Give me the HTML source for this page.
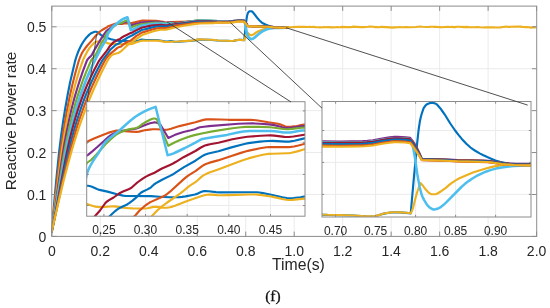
<!DOCTYPE html><html><head><meta charset="utf-8"><style>html,body{margin:0;padding:0;background:#fff;}svg{display:block;}text{font-family:"Liberation Sans",Arial,sans-serif;fill:#262626;}</style></head><body>
<svg width="550" height="308" viewBox="0 0 550 308">
<defs>
<clipPath id="cm"><rect x="51.8" y="6.1" width="484.90000000000003" height="230.3"/></clipPath>
<clipPath id="c1"><rect x="86.7" y="101.7" width="218.3" height="114.49999999999999"/></clipPath>
<clipPath id="c2"><rect x="322.0" y="101.5" width="209.0" height="115.5"/></clipPath>
</defs>
<rect width="550" height="308" fill="#fff"/>
<path d="M100.28,6.1V236.4M148.76,6.1V236.4M197.24,6.1V236.4M245.72,6.1V236.4M294.20,6.1V236.4M342.68,6.1V236.4M391.16,6.1V236.4M439.64,6.1V236.4M488.12,6.1V236.4M51.8,194.48H536.7M51.8,152.56H536.7M51.8,110.64H536.7M51.8,68.72H536.7M51.8,26.80H536.7" stroke="#ebebeb" stroke-width="1" fill="none"/>
<g clip-path="url(#cm)" fill="none" stroke-width="2.15" stroke-linejoin="round" stroke-linecap="round">
<path d="M51.6,232.0L56.0,182.9L57.8,164.5L59.2,151.2L61.1,136.0L63.2,120.8L65.3,108.0L67.6,95.0L70.1,82.3L73.1,69.5L75.2,60.6L76.3,57.0L77.4,53.8L78.5,51.0L80.0,47.8L81.4,45.0L83.2,42.0L84.7,39.8L86.1,37.9L88.0,35.9L89.4,34.6L91.2,33.2L93.4,32.2L94.9,31.8L95.6,31.7L96.3,31.8L98.1,32.4L98.9,32.9L100.8,34.9L103.7,36.5L105.4,37.8L106.1,38.2L106.7,38.3L107.5,38.2L108.2,38.3L111.1,39.3L113.4,39.8L116.2,40.5L119.0,41.0L126.1,41.0L131.5,41.3L134.1,41.3L136.1,41.1L138.9,40.6L141.1,39.8L141.8,39.6L146.0,40.0L156.9,40.0L158.7,40.2L165.7,41.5L167.5,41.5L171.0,41.1L171.9,41.2L174.1,41.6L175.0,41.7L178.8,41.6L192.6,40.6L194.5,40.4L198.1,39.6L199.5,39.5L209.0,39.7L214.5,40.1L217.6,40.5L226.9,40.7L231.7,41.0L233.7,40.9L236.2,40.2L238.8,39.9L241.0,39.9L244.2,40.2L246.2,21.6L247.0,16.1L247.5,14.2L248.2,12.4L248.7,11.9L249.1,11.6L250.0,11.2L250.6,11.2L251.9,11.4L253.0,12.4L254.3,14.0L257.8,18.6L259.3,20.2L260.9,21.7L261.9,22.6L262.9,23.3L266.0,24.8L268.0,25.6L270.5,26.5L273.5,27.1L276.3,27.3L280.7,27.4L282.1,27.8L284.0,27.7L286.4,27.3L287.9,27.3" stroke="#0072BD"/>
<path d="M51.6,232.0L57.8,174.1L59.9,156.0L61.8,142.2L64.0,127.7L66.7,112.0L69.4,98.0L72.3,85.1L75.2,73.5L78.5,61.7L80.0,57.5L81.8,53.4L82.9,51.5L84.0,49.9L86.9,46.0L91.7,40.6L96.0,35.4L99.2,32.2L100.7,31.0L102.1,30.0L105.1,28.3L106.9,27.4L107.3,27.0L107.5,26.6L107.6,26.5L112.3,24.7L115.2,23.8L116.5,23.6L121.9,24.0L124.2,23.5L126.5,23.3L130.7,23.4L141.2,20.8L142.5,20.6L156.1,20.8L163.1,21.8L165.1,22.5L165.8,22.6L168.6,22.4L171.2,22.0L198.5,21.3L205.7,21.3L211.2,21.5L217.0,21.9L217.4,22.2L218.1,22.2L223.1,22.3L228.6,22.2L232.7,22.0L238.6,21.1L242.0,21.1L244.1,21.3L244.9,22.2L245.9,23.5L247.6,26.1L267.4,26.7L272.7,27.3L275.6,27.4L280.7,27.6L282.1,27.8L284.0,27.7L286.4,27.3L287.9,27.3" stroke="#D95319"/>
<path d="M51.6,232.0L54.1,212.6L59.6,168.0L62.1,148.9L64.0,137.1L65.8,126.4L68.0,114.9L70.1,104.7L73.1,92.6L76.0,81.9L79.2,71.1L82.9,60.4L84.0,57.9L85.1,55.7L86.9,52.2L88.3,49.8L89.8,47.7L90.9,46.3L93.1,44.0L94.1,42.9L95.2,42.2L96.3,41.7L97.4,41.5L98.5,41.5L102.5,41.9L105.0,42.2L106.3,42.5L107.3,43.1L108.4,43.4L110.5,43.9L111.7,43.9L115.3,43.7L119.8,44.2L124.4,44.3L127.1,43.8L130.0,44.1L131.6,43.9L133.1,43.6L136.4,42.3L140.6,41.0L141.9,40.7L143.1,40.6L146.2,40.8L157.1,40.6L161.1,41.1L164.9,41.9L166.6,42.0L170.6,41.7L177.7,41.5L191.5,40.6L194.1,40.3L197.7,39.6L199.5,39.4L204.3,39.5L210.1,39.7L215.2,40.0L217.0,40.3L217.4,40.5L227.0,40.7L231.5,41.0L233.7,40.8L236.2,40.2L238.8,39.9L241.0,39.9L244.2,40.2L244.9,38.8L246.2,34.6L247.2,32.2L248.8,33.9L249.7,34.7L250.4,35.1L251.7,35.1L253.5,34.4L254.8,33.5L256.6,32.2L259.0,31.0L263.5,29.3L268.2,28.1L270.2,27.8L272.2,27.6L280.7,27.5L282.2,27.8L284.0,27.7L286.4,27.3L287.9,27.3" stroke="#EDB120"/>
<path d="M51.6,232.0L54.5,212.5L60.7,167.7L62.5,155.6L64.3,144.5L66.6,132.0L69.1,119.9L71.6,108.8L74.5,97.6L77.1,88.8L80.0,79.6L82.9,71.2L86.9,60.6L88.0,58.9L88.7,58.1L90.9,56.0L92.0,54.6L95.2,48.6L99.6,41.2L104.0,34.4L105.8,31.8L106.9,30.6L108.5,29.5L113.7,25.3L114.8,24.7L116.1,24.2L117.7,23.7L121.9,23.1L125.7,21.7L127.3,21.4L127.8,21.5L128.7,21.9L131.1,25.6L134.4,24.3L138.6,23.3L140.3,22.7L143.1,22.4L152.3,21.8L156.2,21.7L160.9,22.0L162.0,22.2L164.5,22.8L165.5,22.9L166.8,22.8L169.6,22.5L170.9,22.4L171.9,22.5L174.5,23.0L175.5,23.0L178.8,22.8L193.7,21.0L198.1,20.6L202.8,20.7L213.0,21.3L217.0,21.4L217.4,21.2L223.1,21.3L230.2,21.2L233.0,20.9L238.4,20.2L241.1,20.1L244.1,20.4L244.9,21.3L245.9,22.7L247.6,25.8L267.6,26.4L273.8,27.0L280.7,27.2L282.1,27.8L284.0,27.7L286.4,27.3L287.9,27.3" stroke="#7E2F8E"/>
<path d="M51.6,232.0L54.9,212.0L62.1,165.1L64.0,154.3L65.8,144.3L68.3,132.0L70.9,120.4L73.8,109.0L76.7,98.9L79.6,89.8L83.0,80.0L86.5,71.1L90.9,60.8L92.0,59.1L94.9,55.9L96.0,54.2L100.7,44.5L101.8,42.5L104.4,38.5L106.5,33.8L107.2,32.6L107.6,32.1L108.6,31.4L109.4,30.8L112.9,27.3L114.3,26.0L115.8,24.8L117.1,24.1L119.1,23.4L122.0,22.8L124.1,21.6L125.7,20.8L126.4,20.5L127.1,20.4L127.9,20.7L131.1,27.6L134.5,26.1L136.9,25.3L138.9,24.8L144.4,23.8L150.2,23.0L153.0,22.7L155.8,22.6L160.9,22.7L165.7,23.2L171.0,22.8L171.9,23.0L174.1,23.6L175.5,23.7L178.8,23.4L194.1,20.9L198.5,20.4L205.4,20.4L211.5,20.6L217.0,21.0L217.4,21.6L222.8,21.6L230.9,21.4L233.0,21.3L238.1,20.5L239.8,20.4L242.4,20.5L244.1,20.7L244.9,21.6L245.9,23.0L247.6,25.9L267.6,26.5L273.8,27.1L280.7,27.4L282.1,27.8L284.0,27.7L286.4,27.3L287.9,27.3" stroke="#77AC30"/>
<path d="M51.6,232.0L55.3,212.0L62.7,168.0L66.1,149.6L68.3,139.1L70.9,128.0L73.4,118.2L76.3,107.9L79.6,97.6L83.0,88.0L86.9,78.1L90.9,68.9L93.4,63.5L100.7,48.6L106.1,39.6L106.9,37.8L107.5,35.0L108.2,33.3L112.3,27.4L113.4,26.1L116.6,23.8L120.0,21.1L121.6,19.9L124.2,18.5L127.4,17.3L130.9,30.1L131.9,29.9L133.2,29.4L141.1,25.8L148.2,24.7L152.1,24.0L153.9,23.8L161.1,23.7L165.9,24.1L169.9,23.6L171.0,23.6L171.9,23.7L174.5,24.3L176.3,24.3L178.8,23.9L183.9,23.0L193.7,21.3L196.3,21.0L198.8,20.8L207.2,20.8L214.1,21.0L217.0,21.1L217.4,21.6L223.1,21.7L231.1,21.5L233.0,21.3L238.9,20.5L243.3,20.6L244.2,20.8L244.6,21.6L245.4,24.9L246.6,31.9L247.2,34.2L247.6,35.4L248.2,36.6L249.4,38.2L250.3,38.8L251.3,39.2L252.7,38.8L254.2,37.9L259.6,33.3L261.8,31.7L264.2,30.4L267.3,29.1L270.5,28.3L274.4,27.8L280.7,27.6L282.2,27.8L284.0,27.7L286.4,27.3L287.9,27.3" stroke="#4DBEEE" stroke-width="2.7"/>
<path d="M51.6,232.0L53.4,223.5L55.6,212.6L63.6,168.9L65.8,157.6L67.6,148.9L70.1,137.7L72.6,128.0L75.2,118.5L78.1,109.1L80.0,103.7L82.1,97.6L86.1,87.5L88.3,82.4L90.9,76.8L93.4,71.6L96.0,66.6L98.9,61.1L100.0,59.4L106.5,51.2L107.8,49.4L109.5,46.6L111.3,44.8L113.2,42.5L113.7,42.1L115.2,41.4L117.2,40.1L120.1,38.9L122.3,37.2L124.5,35.9L127.1,34.8L129.4,33.6L132.4,32.4L135.7,30.6L139.0,29.0L141.1,27.9L142.1,27.5L145.9,26.8L149.9,25.9L153.9,25.3L157.8,25.0L160.8,24.9L165.1,25.3L166.8,25.3L170.7,24.7L178.1,23.9L186.5,22.8L193.4,21.7L196.6,21.4L199.2,21.2L202.8,21.2L210.1,21.3L219.7,21.7L228.3,21.6L232.7,21.4L238.8,20.5L242.4,20.6L244.1,20.8L244.3,21.0L245.9,23.0L247.6,25.9L267.6,26.5L273.8,27.1L280.7,27.4L282.1,27.8L284.0,27.7L286.4,27.3L287.9,27.3" stroke="#A2142F"/>
<path d="M51.6,232.0L55.6,213.4L64.0,172.0L66.1,161.8L68.3,152.2L70.9,141.8L73.8,131.0L76.7,121.1L80.0,111.0L82.1,104.8L84.3,98.9L86.5,93.4L89.1,87.3L91.6,81.6L94.1,76.2L96.7,71.1L99.6,65.5L101.8,61.4L102.9,59.6L106.5,55.0L109.5,50.8L110.8,49.3L115.0,45.5L116.5,44.4L118.8,43.4L120.0,42.7L121.6,41.6L123.2,40.1L125.7,38.9L127.5,37.6L132.4,35.2L135.7,33.3L139.0,31.6L141.1,30.3L142.4,29.8L145.7,29.1L152.4,27.4L154.6,26.9L157.8,26.5L160.0,26.4L165.4,26.5L166.8,26.5L170.7,25.7L174.8,25.0L195.5,22.1L199.9,21.8L212.3,21.8L222.2,22.0L229.3,21.9L232.8,21.6L238.6,20.8L242.3,20.9L244.1,21.1L244.9,21.9L245.9,23.3L247.6,26.0L267.4,26.5L273.8,27.2L280.7,27.4L282.1,27.8L284.0,27.7L286.4,27.3L287.9,27.3" stroke="#0072BD"/>
<path d="M51.6,232.0L62.5,182.6L67.6,160.9L70.5,149.5L73.4,139.0L76.3,129.1L79.2,120.0L82.9,109.5L86.9,98.9L91.2,88.4L95.6,78.7L99.6,70.5L104.7,60.7L106.1,58.5L107.6,56.5L109.0,55.0L110.5,53.6L114.5,50.4L117.4,47.9L118.4,47.3L120.3,46.8L121.0,46.5L121.6,46.1L122.8,44.8L125.2,43.0L126.2,42.4L129.6,41.1L130.6,40.6L131.6,39.8L136.4,35.9L139.0,34.4L140.9,33.1L141.8,32.6L152.4,29.5L154.6,28.9L157.8,28.3L159.7,28.0L166.1,28.0L167.7,27.8L171.2,27.0L174.8,25.6L177.4,25.2L185.7,24.2L194.1,23.1L198.1,22.7L217.4,22.4L222.9,22.4L229.6,22.3L232.8,22.1L238.2,21.3L240.2,21.2L242.4,21.3L244.1,21.5L245.9,23.7L247.6,26.2L267.4,26.7L273.1,27.4L275.7,27.5L280.7,27.6L282.1,27.8L284.0,27.7L286.4,27.3L287.9,27.3" stroke="#D95319"/>
<path d="M51.6,232.0L58.9,200.5L63.8,180.0L68.7,161.5L71.2,152.4L73.7,144.0L76.3,135.6L79.2,126.7L81.8,119.4L84.7,111.4L87.6,103.8L90.8,96.0L93.8,89.0L97.1,81.7L101.7,72.0L107.2,61.2L109.2,58.0L110.8,56.0L111.8,55.1L113.0,54.5L114.5,54.0L118.0,53.0L119.1,52.5L120.0,52.0L121.2,51.1L123.2,49.3L127.4,45.3L128.9,44.0L130.6,42.8L134.5,40.3L137.4,38.2L139.0,37.3L141.1,35.7L142.2,35.1L153.4,31.3L157.9,30.2L160.4,29.8L165.7,29.6L167.0,29.5L174.8,27.5L178.5,26.8L183.5,25.8L194.1,24.1L200.0,23.5L213.4,23.1L217.0,22.8L217.4,22.6L223.2,22.7L230.4,22.6L232.8,22.4L237.6,21.6L239.4,21.5L242.3,21.6L244.1,21.8L245.9,23.9L247.6,26.2L267.4,26.7L273.0,27.3L275.7,27.5L280.7,27.6L282.1,27.8L284.0,27.7L286.4,27.3L287.9,27.3L289.4,27.2L292.5,27.1L298.1,26.7L301.0,26.9L304.0,26.7L307.7,27.0L309.7,26.9L311.3,27.0L314.1,26.9L315.5,27.2L318.4,27.2L319.9,27.4L322.8,27.3L324.3,27.1L325.7,27.2L328.6,27.1L331.5,27.4L335.9,27.3L337.3,27.1L338.8,27.2L340.3,27.2L341.7,26.9L347.0,27.1L349.0,27.0L350.7,27.1L351.9,27.0L353.3,26.6L356.1,26.9L357.7,26.9L360.4,27.1L363.5,27.1L367.9,26.8L369.3,26.6L373.7,26.7L375.2,27.1L376.6,27.0L379.5,27.2L381.0,26.9L381.6,26.9L385.2,27.1L387.0,27.1L392.6,27.6L394.1,27.4L395.5,27.4L397.0,27.2L398.6,27.3L399.9,27.0L401.3,27.2L402.8,27.3L407.0,27.0L408.6,27.2L410.1,27.2L415.9,27.0L417.3,26.7L418.8,26.7L420.2,26.5L422.2,26.8L427.0,27.0L429.0,26.9L431.3,26.7L432.5,26.7L434.8,26.9L436.2,26.8L437.7,27.0L439.8,27.1L442.1,27.3L445.0,27.0L447.6,26.9L450.7,27.0L452.2,26.9L453.7,27.1L455.2,27.1L456.6,26.8L458.1,26.7L459.5,26.8L461.0,27.0L462.4,26.9L463.9,27.1L467.0,26.9L469.5,27.2L470.7,27.2L474.3,27.2L477.3,27.1L479.9,27.3L484.2,27.5L485.7,27.3L488.6,27.3L490.1,27.4L493.0,27.3L494.4,27.4L498.8,27.5L500.4,27.4L502.8,27.0L506.1,26.6L507.5,26.8L510.4,26.8L517.7,26.5L520.6,26.6L522.1,26.9L523.5,27.0L525.0,27.1L527.0,27.1L529.3,27.3L530.7,27.6L532.2,27.5L533.7,27.3L535.1,27.4" stroke="#EDB120"/>
</g>
<path d="M51.80,236.4v-4.8M51.80,6.1v4.8M100.28,236.4v-4.8M100.28,6.1v4.8M148.76,236.4v-4.8M148.76,6.1v4.8M197.24,236.4v-4.8M197.24,6.1v4.8M245.72,236.4v-4.8M245.72,6.1v4.8M294.20,236.4v-4.8M294.20,6.1v4.8M342.68,236.4v-4.8M342.68,6.1v4.8M391.16,236.4v-4.8M391.16,6.1v4.8M439.64,236.4v-4.8M439.64,6.1v4.8M488.12,236.4v-4.8M488.12,6.1v4.8M536.60,236.4v-4.8M536.60,6.1v4.8M51.8,236.40h4.8M536.7,236.40h-4.8M51.8,194.48h4.8M536.7,194.48h-4.8M51.8,152.56h4.8M536.7,152.56h-4.8M51.8,110.64h4.8M536.7,110.64h-4.8M51.8,68.72h4.8M536.7,68.72h-4.8M51.8,26.80h4.8M536.7,26.80h-4.8" stroke="#8c8c8c" stroke-width="1" fill="none"/>
<rect x="51.8" y="6.1" width="484.90000000000003" height="230.3" fill="none" stroke="#8c8c8c" stroke-width="1"/>
<text x="51.80" y="255.9" font-size="14" text-anchor="middle">0</text>
<text x="100.28" y="255.9" font-size="14" text-anchor="middle">0.2</text>
<text x="148.76" y="255.9" font-size="14" text-anchor="middle">0.4</text>
<text x="197.24" y="255.9" font-size="14" text-anchor="middle">0.6</text>
<text x="245.72" y="255.9" font-size="14" text-anchor="middle">0.8</text>
<text x="294.20" y="255.9" font-size="14" text-anchor="middle">1.0</text>
<text x="342.68" y="255.9" font-size="14" text-anchor="middle">1.2</text>
<text x="391.16" y="255.9" font-size="14" text-anchor="middle">1.4</text>
<text x="439.64" y="255.9" font-size="14" text-anchor="middle">1.6</text>
<text x="488.12" y="255.9" font-size="14" text-anchor="middle">1.8</text>
<text x="536.60" y="255.9" font-size="14" text-anchor="middle">2.0</text>
<text x="46.4" y="241.50" font-size="14" text-anchor="end">0</text>
<text x="46.4" y="199.58" font-size="14" text-anchor="end">0.1</text>
<text x="46.4" y="157.66" font-size="14" text-anchor="end">0.2</text>
<text x="46.4" y="115.74" font-size="14" text-anchor="end">0.3</text>
<text x="46.4" y="73.82" font-size="14" text-anchor="end">0.4</text>
<text x="46.4" y="31.90" font-size="14" text-anchor="end">0.5</text>
<text x="298.4" y="270.4" font-size="15.8" text-anchor="middle">Time(s)</text>
<text transform="translate(15.6,120.9) rotate(-90)" x="0" y="0" font-size="15.4" text-anchor="middle">Reactive Power rate</text>
<text x="272.9" y="300.7" font-size="15.5" text-anchor="middle" stroke="#111" stroke-width="0.3" style="font-family:'Liberation Serif','Times New Roman',serif;fill:#111">(f)</text>
<rect x="86.7" y="101.7" width="218.30" height="114.50" fill="#fff"/>
<path d="M103.90,101.7V216.2M145.55,101.7V216.2M187.20,101.7V216.2M228.85,101.7V216.2M270.50,101.7V216.2M86.7,110.90H305.0M86.7,142.30H305.0M86.7,174.40H305.0M86.7,205.50H305.0" stroke="#ebebeb" stroke-width="1" fill="none"/>
<g clip-path="url(#c1)" fill="none" stroke-width="2.15" stroke-linejoin="round" stroke-linecap="round">
<path d="M71.1,177.5L73.6,178.9L74.9,179.8L79.9,184.0L81.1,184.8L82.4,185.5L83.6,185.9L84.3,185.9L87.0,185.7L88.0,185.8L89.5,186.0L92.0,186.8L97.0,189.0L99.5,189.9L107.5,191.6L117.0,194.3L123.0,195.6L126.0,196.0L151.0,196.1L159.5,196.7L169.5,197.2L175.0,197.3L178.5,197.2L182.0,196.9L185.5,196.4L195.0,194.5L196.9,193.9L200.9,192.1L202.4,191.5L203.9,191.1L205.4,191.0L208.4,191.2L215.9,192.1L219.4,192.4L250.9,192.2L256.9,192.3L259.4,192.5L262.9,193.1L272.4,195.0L282.4,197.3L286.9,198.0L289.9,198.2L293.4,198.0L300.4,197.2L303.9,196.6L305.4,196.5L308.4,196.8L315.9,198.5L318.4,198.7L320.9,198.7" stroke="#0072BD"/>
<path d="M71.1,152.9L78.6,148.3L82.4,146.5L83.6,145.8L84.9,144.9L86.0,143.8L86.5,143.1L87.0,141.9L87.5,141.5L94.0,138.5L104.0,134.4L108.0,132.9L114.5,131.0L116.5,130.6L118.5,130.6L131.5,131.7L136.5,131.9L139.0,131.6L144.5,130.3L149.5,129.6L152.5,129.3L154.5,129.2L156.5,129.2L164.0,129.8L165.5,129.8L167.0,129.7L169.0,129.3L171.0,128.8L179.5,126.1L195.4,122.3L203.4,119.9L206.4,119.4L207.9,119.3L211.4,119.3L228.4,119.8L250.4,119.8L253.9,120.0L257.9,120.5L268.4,122.3L278.1,123.7L279.9,124.2L284.9,126.3L286.4,126.7L287.4,126.8L291.4,126.6L296.9,126.0L298.9,125.6L302.4,124.8L304.4,124.5L308.4,124.4L320.9,124.1" stroke="#D95319"/>
<path d="M71.1,199.5L77.4,200.5L79.9,201.0L82.9,201.8L83.6,202.1L86.0,203.6L87.0,204.1L90.5,205.3L93.0,206.0L95.5,206.6L97.5,206.9L99.5,207.1L101.5,207.1L110.5,206.5L114.0,206.4L116.5,206.6L122.5,207.6L129.5,208.3L132.7,208.4L145.0,208.5L147.5,208.2L152.5,207.1L154.5,206.8L157.0,206.9L162.5,207.6L164.5,207.8L167.0,207.7L170.0,207.2L172.5,206.6L175.0,205.8L186.5,201.2L192.9,199.1L200.9,196.2L203.4,195.5L205.4,195.0L207.4,194.7L208.9,194.5L211.9,194.6L217.4,195.1L220.0,195.2L228.4,195.1L249.4,194.5L255.0,194.5L257.4,194.6L261.9,195.1L270.9,196.5L273.9,197.1L283.4,199.3L286.4,199.8L288.9,200.0L292.4,199.9L299.4,199.1L304.4,198.6L320.9,198.3" stroke="#EDB120"/>
<path d="M71.1,177.5L74.9,171.3L79.9,163.5L82.4,159.8L83.6,158.2L85.3,156.5L88.0,154.8L92.0,151.6L97.0,147.3L104.0,141.0L108.0,137.4L110.5,135.4L112.0,134.5L114.0,133.6L116.5,132.6L119.0,131.8L122.0,131.0L125.0,130.3L133.0,129.2L136.5,128.5L138.5,127.8L144.5,125.2L150.0,123.3L152.5,122.7L154.5,122.4L156.0,122.5L158.0,123.1L160.0,124.0L168.3,138.0L174.5,135.1L179.5,133.2L183.5,132.0L190.9,130.3L193.9,129.5L195.4,129.0L198.4,127.8L199.9,127.3L203.9,126.7L208.9,126.1L238.4,123.8L245.9,123.5L252.4,123.4L259.9,123.7L268.9,124.4L270.9,124.6L272.9,124.9L275.4,125.4L282.4,127.3L284.4,127.7L286.4,127.9L288.4,127.9L290.9,127.7L300.4,126.3L302.9,126.1L305.0,126.0L307.2,126.1L308.4,126.3L314.6,127.8L317.1,128.2L318.4,128.3L320.9,128.3" stroke="#7E2F8E"/>
<path d="M71.1,195.6L74.9,189.5L76.4,186.7L77.4,184.6L78.6,181.7L82.4,171.9L83.6,168.9L84.9,166.2L86.0,164.3L86.5,163.6L87.5,162.5L91.0,160.0L93.5,157.6L96.0,155.0L105.5,144.3L110.5,139.4L113.0,137.2L115.5,135.1L117.5,133.8L119.5,132.7L123.0,131.2L127.0,129.8L130.0,129.1L135.0,128.3L137.0,127.7L139.0,126.6L143.0,123.7L144.5,122.8L150.0,119.8L152.5,118.8L154.0,118.5L155.0,118.5L156.0,118.9L157.0,119.5L168.3,145.8L174.5,142.5L180.0,140.0L187.4,137.2L190.9,136.1L194.4,135.1L202.9,133.2L212.4,131.4L232.4,128.3L240.9,127.3L245.9,126.9L250.4,126.8L259.4,126.9L270.3,127.3L274.4,127.7L283.4,129.0L287.4,129.2L291.9,128.9L301.4,127.8L305.4,127.6L307.2,127.8L308.4,128.1L315.9,130.5L318.4,130.9L320.9,130.9" stroke="#77AC30"/>
<path d="M71.1,211.1L73.6,206.8L77.4,200.0L79.9,195.7L81.1,193.4L82.4,190.8L83.6,187.8L84.9,184.0L86.5,175.5L87.0,173.4L88.0,170.7L89.5,167.3L90.5,165.4L92.0,162.9L94.5,158.9L98.0,153.9L103.0,145.5L105.0,142.6L107.0,140.4L109.5,138.2L118.5,131.2L130.0,121.0L132.5,118.9L135.0,117.0L139.5,114.1L144.0,111.7L150.0,108.9L155.6,106.8L167.6,155.2L169.0,154.9L171.0,154.3L173.0,153.6L175.5,152.5L185.0,148.0L195.4,142.6L199.9,140.0L201.4,139.3L202.4,139.0L206.4,138.2L213.9,137.1L226.9,134.9L238.9,132.3L243.4,131.5L246.4,131.2L249.4,131.0L270.9,131.0L274.9,131.3L283.9,132.4L287.9,132.6L289.9,132.5L291.9,132.2L301.4,130.6L303.4,130.5L305.4,130.4L307.2,130.6L308.4,130.8L315.9,132.8L318.4,133.2L320.9,133.1" stroke="#4DBEEE" stroke-width="2.5"/>
<path d="M71.1,251.9L81.1,238.0L86.0,230.9L88.5,226.9L92.0,220.5L94.0,217.3L95.5,215.4L100.0,210.5L105.0,203.5L106.0,202.4L107.0,201.5L109.0,200.1L113.6,197.5L118.5,194.0L120.5,192.7L123.0,191.6L128.0,189.6L130.5,188.3L132.5,186.8L136.5,183.2L138.0,182.0L142.0,179.1L145.5,176.9L148.0,175.6L154.5,172.7L160.5,169.3L162.5,168.3L170.0,164.9L173.0,163.5L176.0,161.8L183.5,157.2L195.4,151.0L200.9,147.5L203.4,146.2L204.9,145.5L207.4,144.9L209.9,144.3L218.4,142.8L232.4,139.2L240.9,137.7L247.4,136.7L260.9,135.7L265.9,135.5L270.4,135.4L274.4,135.6L284.4,136.9L286.9,137.0L288.9,137.0L293.4,136.5L304.4,134.7L320.9,133.0" stroke="#A2142F"/>
<path d="M70.3,267.7L72.4,264.4L74.9,260.8L83.6,248.9L92.5,235.2L94.5,232.3L96.5,229.6L98.0,227.9L99.5,226.3L104.0,222.0L108.0,217.9L112.5,213.5L115.5,210.8L117.0,209.6L119.0,208.3L126.0,205.0L127.5,204.2L129.5,202.9L132.5,200.7L135.5,198.2L136.5,197.3L139.5,194.0L140.9,192.7L143.0,191.5L147.5,189.4L149.5,188.3L151.0,187.3L154.0,184.5L156.0,183.1L158.0,182.0L162.5,179.5L170.0,175.9L173.0,174.3L175.5,172.7L184.0,167.1L195.4,160.7L201.4,156.6L203.4,155.4L205.4,154.5L208.4,153.5L218.4,151.2L231.4,147.4L241.4,144.7L245.4,143.7L248.4,143.1L259.9,141.6L263.9,141.2L267.4,141.0L272.9,140.9L285.9,141.6L288.4,141.6L290.4,141.4L294.4,140.8L304.4,138.4L320.9,135.5" stroke="#0072BD"/>
<path d="M71.2,283.4L76.1,272.9L78.9,267.7L81.1,264.0L83.6,260.1L86.5,256.0L89.5,252.1L93.0,248.0L97.0,244.0L101.0,240.3L111.1,231.6L113.0,229.8L117.5,225.1L119.5,223.2L122.0,221.3L124.0,220.2L126.0,219.5L131.0,218.1L133.5,217.0L134.5,216.2L135.5,215.2L138.5,211.7L139.6,210.5L144.5,206.2L148.0,203.6L150.0,202.3L151.5,201.6L163.0,196.5L165.0,195.4L166.5,194.5L170.0,191.7L183.5,179.4L186.5,176.9L188.9,175.1L195.4,171.1L201.4,166.6L203.9,164.9L205.9,164.0L208.9,162.9L217.9,160.4L231.4,155.9L240.9,152.9L245.4,151.5L248.9,150.6L259.9,148.3L263.4,147.7L266.4,147.3L269.9,147.1L288.4,147.1L290.9,146.9L293.9,146.5L298.4,145.5L305.9,143.5L308.4,142.6L315.9,139.1L318.4,138.2L320.9,137.7" stroke="#D95319"/>
<path d="M71.2,303.9L84.9,274.4L87.5,269.2L92.0,261.7L95.0,257.1L97.5,253.8L100.0,251.0L101.5,249.6L102.5,248.9L104.5,247.7L107.0,246.5L111.0,245.0L119.5,242.5L123.0,241.3L125.0,240.4L127.0,239.4L128.5,238.6L130.0,237.6L132.0,236.0L134.0,234.2L141.0,227.5L155.5,212.3L158.0,209.8L160.5,207.6L163.0,205.6L166.5,203.0L180.0,193.6L182.5,191.7L187.4,187.6L189.9,185.7L195.4,182.2L197.4,180.5L201.4,176.9L203.4,175.4L205.9,174.1L209.4,172.6L217.4,169.8L243.4,160.1L248.4,158.4L256.4,156.3L262.9,154.8L265.9,154.2L268.4,153.9L272.9,153.7L286.9,153.3L288.9,153.2L291.4,152.8L296.4,151.6L315.9,146.1L320.9,144.8" stroke="#EDB120"/>
</g>
<path d="M103.90,216.2v-2.2M103.90,101.7v2.2M145.55,216.2v-2.2M145.55,101.7v2.2M187.20,216.2v-2.2M187.20,101.7v2.2M228.85,216.2v-2.2M228.85,101.7v2.2M270.50,216.2v-2.2M270.50,101.7v2.2M86.7,110.90h2.2M305.0,110.90h-2.2M86.7,142.30h2.2M305.0,142.30h-2.2M86.7,174.40h2.2M305.0,174.40h-2.2M86.7,205.50h2.2M305.0,205.50h-2.2" stroke="#8c8c8c" stroke-width="1" fill="none"/>
<rect x="86.7" y="101.7" width="218.30" height="114.50" fill="none" stroke="#8c8c8c" stroke-width="1"/>
<text x="103.90" y="233.80" font-size="12" text-anchor="middle">0.25</text>
<text x="145.55" y="233.80" font-size="12" text-anchor="middle">0.30</text>
<text x="187.20" y="233.80" font-size="12" text-anchor="middle">0.35</text>
<text x="228.85" y="233.80" font-size="12" text-anchor="middle">0.40</text>
<text x="270.50" y="233.80" font-size="12" text-anchor="middle">0.45</text>
<rect x="322.0" y="101.5" width="209.00" height="115.50" fill="#fff"/>
<path d="M335.60,101.5V217.0M375.60,101.5V217.0M415.60,101.5V217.0M455.60,101.5V217.0M495.60,101.5V217.0M322.0,130.50H531.0M322.0,162.40H531.0M322.0,194.40H531.0" stroke="#ebebeb" stroke-width="1" fill="none"/>
<g clip-path="url(#c2)" fill="none" stroke-width="2.15" stroke-linejoin="round" stroke-linecap="round">
<path d="M306.4,212.4L311.2,212.8L316.0,213.4L319.6,214.0L320.8,214.2L321.7,214.5L322.6,214.6L327.4,214.9L339.0,215.1L353.4,215.5L357.2,215.7L365.8,216.4L369.7,216.5L372.6,216.4L375.9,216.0L377.8,215.5L382.2,214.1L384.1,213.6L388.9,212.8L392.2,212.4L395.1,212.3L399.4,212.4L406.2,212.9L410.7,213.4L413.4,183.2L417.2,142.7L418.6,129.8L419.8,121.8L420.6,118.1L421.5,114.5L423.0,109.8L423.8,107.9L424.9,106.3L426.3,104.7L427.0,104.3L428.7,103.5L430.6,102.9L431.6,102.8L432.6,102.9L434.5,103.3L435.9,103.8L436.4,104.1L437.4,105.0L440.2,108.2L442.6,111.5L444.6,114.3L450.3,123.5L455.1,130.5L458.5,134.9L461.8,138.9L466.6,144.0L468.6,145.8L470.5,147.5L472.4,148.9L474.8,150.5L480.1,153.6L483.4,155.3L487.3,157.1L490.6,158.5L495.4,160.4L499.8,161.8L505.5,163.1L510.3,163.7L516.1,164.2L531.0,164.5L531.9,164.7L534.0,165.8L535.6,166.3L538.0,166.2L540.4,166.0L546.0,165.0" stroke="#0072BD"/>
<path d="M306.4,142.5L313.6,143.0L320.8,143.7L321.2,144.0L321.7,144.7L322.0,144.9L331.3,145.2L343.3,145.2L361.5,144.8L367.8,144.4L373.5,143.8L382.2,142.2L389.8,141.0L393.2,140.7L395.1,140.6L398.5,140.7L405.7,141.0L410.2,141.6L410.5,141.9L413.0,145.1L416.2,149.9L419.1,154.8L421.8,159.9L445.0,160.6L457.5,161.2L487.3,161.9L490.2,162.2L501.2,163.8L504.6,164.2L514.2,164.9L531.0,165.3L532.0,165.5L534.0,166.1L535.6,166.3L538.0,166.2L540.4,166.0L546.0,165.0" stroke="#D95319"/>
<path d="M306.4,212.1L312.4,212.5L317.2,213.1L320.8,213.8L321.7,214.4L322.2,214.5L327.4,214.8L339.0,215.0L353.8,215.5L357.7,215.7L365.4,216.2L369.2,216.4L372.1,216.3L375.9,215.9L377.8,215.4L382.2,214.0L384.1,213.5L389.4,212.6L392.7,212.3L395.6,212.2L399.9,212.4L406.2,212.8L410.7,213.3L411.9,210.9L413.0,208.0L413.8,205.0L415.5,198.0L417.2,192.0L419.1,186.5L420.6,183.1L423.0,185.8L425.8,189.6L427.8,191.7L428.7,192.6L430.2,193.6L431.1,194.1L431.7,194.2L435.4,194.2L436.9,193.7L441.2,191.2L445.5,188.1L449.8,184.4L451.5,183.1L455.6,180.4L459.4,178.3L467.6,174.7L472.9,172.6L480.1,170.2L486.8,168.2L491.1,167.1L494.5,166.4L499.3,165.6L502.6,165.3L513.7,165.0L531.0,165.1L531.9,165.2L534.0,166.0L535.6,166.3L538.0,166.2L540.4,166.0L546.0,165.0" stroke="#EDB120"/>
<path d="M306.4,141.3L313.6,141.7L320.8,141.8L322.0,141.2L340.4,141.5L362.5,141.1L367.3,140.8L373.0,140.2L382.2,138.5L389.4,137.4L392.2,137.1L394.6,136.9L397.5,136.9L405.7,137.3L410.2,137.9L412.4,140.6L414.8,144.2L417.2,148.5L419.6,153.5L421.8,158.7L445.0,159.4L457.5,160.0L482.0,160.5L487.8,160.7L490.6,161.1L502.2,162.7L508.4,163.3L515.6,163.7L526.6,163.9L531.0,164.1L531.9,164.4L534.0,165.7L535.6,166.3L538.0,166.2L540.4,166.0L546.0,165.0" stroke="#7E2F8E"/>
<path d="M306.4,139.0L313.6,139.6L320.8,140.3L321.2,140.8L321.7,142.0L322.0,142.4L330.3,142.6L340.9,142.7L361.0,142.3L367.3,142.0L373.5,141.3L382.2,139.7L389.8,138.5L393.2,138.2L395.3,138.1L399.0,138.2L404.2,138.4L406.6,138.6L410.2,139.1L412.4,141.8L414.8,145.4L417.2,149.5L419.6,154.2L421.8,159.1L445.0,159.8L457.5,160.4L482.0,160.9L487.8,161.1L490.6,161.5L502.2,163.1L508.4,163.7L515.6,164.1L526.6,164.3L531.0,164.5L532.0,164.8L534.0,165.8L535.6,166.3L538.0,166.2L540.4,166.0L546.0,165.0" stroke="#77AC30"/>
<path d="M306.4,140.0L320.8,140.7L321.2,141.2L321.7,142.3L322.0,142.6L330.3,142.8L341.4,142.9L361.0,142.5L367.3,142.2L373.5,141.5L381.2,140.1L387.9,139.0L391.3,138.5L393.7,138.3L398.5,138.4L405.7,138.7L408.1,138.9L410.2,139.3L410.5,139.5L411.0,140.3L411.9,142.5L413.4,149.0L414.8,156.8L417.2,173.4L418.2,179.2L419.6,186.6L420.6,190.7L421.5,194.2L422.5,196.7L423.9,199.6L426.3,203.7L427.8,205.7L429.2,207.1L430.6,208.2L432.1,209.0L433.5,209.5L434.5,209.5L435.4,209.3L438.3,208.5L440.2,207.4L443.6,204.8L446.0,202.6L461.4,187.0L464.7,184.1L468.6,181.1L472.4,178.5L476.2,176.2L481.5,173.6L485.8,171.7L491.1,169.9L495.9,168.6L501.7,167.5L508.9,166.5L513.7,166.1L520.4,165.7L525.7,165.4L530.0,165.3L531.9,165.4L534.0,166.1L535.6,166.3L536.0,166.3L540.4,166.0L546.0,165.0" stroke="#4DBEEE" stroke-width="2.5"/>
<path d="M306.4,141.9L322.0,142.7L333.2,143.0L342.8,143.0L362.0,142.6L366.8,142.3L373.0,141.7L382.2,140.0L389.4,138.9L392.2,138.6L394.6,138.4L397.5,138.4L405.7,138.8L410.2,139.4L411.9,141.4L414.3,144.9L417.2,149.7L419.6,154.3L421.8,159.1L445.0,159.8L457.5,160.4L482.0,160.9L487.8,161.1L490.6,161.5L502.2,163.1L508.4,163.7L515.6,164.1L526.6,164.3L531.0,164.5L532.0,164.8L534.0,165.8L535.6,166.3L538.0,166.2L540.4,166.0L546.0,165.0" stroke="#A2142F"/>
<path d="M306.4,143.5L339.0,144.1L362.5,143.7L367.3,143.4L373.0,142.8L382.2,141.1L389.4,140.0L392.2,139.7L394.6,139.5L397.5,139.5L405.7,139.9L410.2,140.5L411.4,142.0L413.8,145.2L416.7,149.8L419.1,154.0L421.8,159.4L445.0,160.1L457.5,160.7L487.3,161.4L490.2,161.7L502.2,163.4L508.4,164.0L515.6,164.4L526.6,164.6L531.0,164.8L532.0,165.0L534.0,165.9L535.6,166.3L538.0,166.2L540.4,166.0L546.0,165.0" stroke="#0072BD"/>
<path d="M306.4,146.0L318.4,145.7L320.8,145.6L322.0,145.5L340.9,145.8L363.0,145.4L367.3,145.1L373.0,144.5L382.2,142.8L389.4,141.7L392.2,141.4L394.6,141.2L397.0,141.2L405.2,141.6L410.2,142.2L412.9,145.5L416.2,150.5L419.1,155.2L421.8,160.1L445.0,160.8L457.5,161.4L487.3,162.1L490.2,162.4L501.7,164.1L506.0,164.5L514.6,165.1L531.0,165.5L532.0,165.6L534.0,166.1L535.6,166.3L538.0,166.2L540.4,166.0L546.0,165.0" stroke="#D95319"/>
<path d="M306.4,148.3L313.6,147.9L320.8,147.2L322.0,146.5L340.9,146.8L359.1,146.5L364.4,146.3L373.0,145.5L382.2,143.8L389.4,142.7L392.2,142.4L394.6,142.2L397.0,142.2L404.7,142.5L410.2,143.2L412.9,146.5L416.2,151.2L419.1,155.6L421.8,160.0L445.0,160.7L457.5,161.3L487.3,162.0L490.2,162.3L501.7,164.0L505.5,164.4L514.6,165.0L531.0,165.4L532.0,165.5L534.0,166.1L535.6,166.3L538.0,166.2L540.4,166.0L546.0,165.0" stroke="#EDB120"/>
</g>
<path d="M335.60,217.0v-2.2M335.60,101.5v2.2M375.60,217.0v-2.2M375.60,101.5v2.2M415.60,217.0v-2.2M415.60,101.5v2.2M455.60,217.0v-2.2M455.60,101.5v2.2M495.60,217.0v-2.2M495.60,101.5v2.2M322.0,130.50h2.2M531.0,130.50h-2.2M322.0,162.40h2.2M531.0,162.40h-2.2M322.0,194.40h2.2M531.0,194.40h-2.2" stroke="#8c8c8c" stroke-width="1" fill="none"/>
<rect x="322.0" y="101.5" width="209.00" height="115.50" fill="none" stroke="#8c8c8c" stroke-width="1"/>
<text x="335.60" y="234.60" font-size="12" text-anchor="middle">0.70</text>
<text x="375.60" y="234.60" font-size="12" text-anchor="middle">0.75</text>
<text x="415.60" y="234.60" font-size="12" text-anchor="middle">0.80</text>
<text x="455.60" y="234.60" font-size="12" text-anchor="middle">0.85</text>
<text x="495.60" y="234.60" font-size="12" text-anchor="middle">0.90</text>
<line x1="96.6" y1="34.2" x2="87.2" y2="101.9" stroke="#3c3c3c" stroke-width="0.9"/>
<line x1="167" y1="21.9" x2="291" y2="102" stroke="#3c3c3c" stroke-width="0.9"/>
<line x1="230.6" y1="22.8" x2="322" y2="108.2" stroke="#3c3c3c" stroke-width="0.9"/>
<line x1="286" y1="27.7" x2="527.7" y2="105.1" stroke="#3c3c3c" stroke-width="0.9"/>
</svg></body></html>
